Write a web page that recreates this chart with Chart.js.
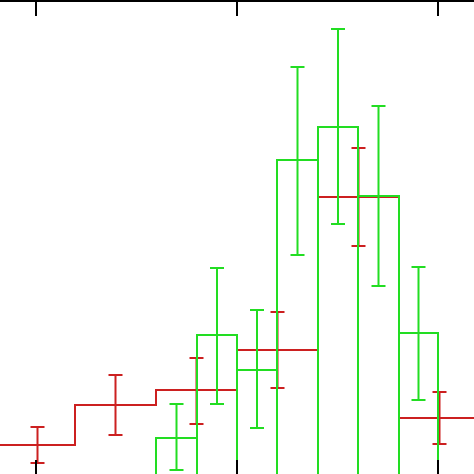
<!DOCTYPE html>
<html><head>
<script src="https://cdn.jsdelivr.net/npm/chart.js@4"></script>
<style>html,body{margin:0;padding:0;background:#fff}#wrap{width:474px;height:474px}</style>
</head><body>
<div id="wrap"><canvas id="c"></canvas></div>
<script>
// bin edges and contents (arbitrary units)
const redEdges = [0, 75, 156, 237, 318, 399, 480];
const redVals = [29, 69, 84, 124, 277, 56];
const redErrLo = [11, 39, 50, 86, 228, 30];
const redErrHi = [47, 99, 116, 162, 326, 82];

const greenEdges = [156, 197, 237, 277, 318, 358, 399, 438];
const greenVals = [36, 139, 104, 314, 347, 278, 141];
const greenErrLo = [4, 70, 46, 219, 250, 188, 74];
const greenErrHi = [70, 206, 164, 407, 445, 368, 207];

const tickPos = [36, 237, 438];

function stepPoints(edges, vals) {
  const pts = [];
  vals.forEach((v, i) => {
    pts.push({x: edges[i], y: v});
    pts.push({x: edges[i + 1], y: v});
  });
  return pts;
}
function boxPoints(edges, vals) {
  const pts = [];
  vals.forEach((v, i) => {
    pts.push({x: edges[i], y: 0}, {x: edges[i], y: v}, {x: edges[i + 1], y: v}, {x: edges[i + 1], y: 0});
  });
  return pts;
}

function drawErr(chart, edges, lo, hi, col) {
  const {ctx, scales: {x, y}} = chart;
  ctx.save();
  ctx.lineWidth = 2;
  ctx.strokeStyle = col;
  lo.forEach((l, i) => {
    const cx = x.getPixelForValue((edges[i] + edges[i + 1]) / 2);
    const y1 = y.getPixelForValue(l), y2 = y.getPixelForValue(hi[i]);
    ctx.beginPath();
    ctx.moveTo(cx, y1); ctx.lineTo(cx, y2);
    ctx.moveTo(cx - 7, y1); ctx.lineTo(cx + 7, y1);
    ctx.moveTo(cx - 7, y2); ctx.lineTo(cx + 7, y2);
    ctx.stroke();
  });
  ctx.restore();
}

const errorBars = {
  id: 'errorBars',
  beforeDatasetsDraw(chart) {
    drawErr(chart, redEdges, redErrLo, redErrHi, '#cc2020');
  },
  afterDatasetsDraw(chart) {
    drawErr(chart, greenEdges, greenErrLo, greenErrHi, '#22dd22');
    const {ctx, scales: {x}} = chart;
    ctx.save();
    ctx.lineWidth = 2;
    ctx.strokeStyle = '#000';
    ctx.beginPath();
    ctx.moveTo(0, 1); ctx.lineTo(474, 1);
    tickPos.forEach(t => {
      const px = x.getPixelForValue(t);
      ctx.moveTo(px, 0); ctx.lineTo(px, 16);
      ctx.moveTo(px, 474); ctx.lineTo(px, 460);
    });
    ctx.stroke();
    ctx.restore();
  }
};

new Chart(document.getElementById('c'), {
  type: 'line',
  data: {
    datasets: [
      {data: stepPoints(redEdges, redVals), borderColor: '#cc2020', borderWidth: 2, pointRadius: 0, tension: 0, order: 2},
      {data: boxPoints(greenEdges, greenVals), borderColor: '#22dd22', borderWidth: 2, pointRadius: 0, tension: 0, order: 1}
    ]
  },
  options: {
    responsive: true, maintainAspectRatio: false, animation: false,
    layout: {padding: 0},
    plugins: {legend: {display: false}, tooltip: {enabled: false}},
    scales: {
      x: {type: 'linear', min: 0, max: 474, display: false},
      y: {min: 0, max: 474, display: false}
    }
  },
  plugins: [errorBars]
});
</script>
</body></html>
